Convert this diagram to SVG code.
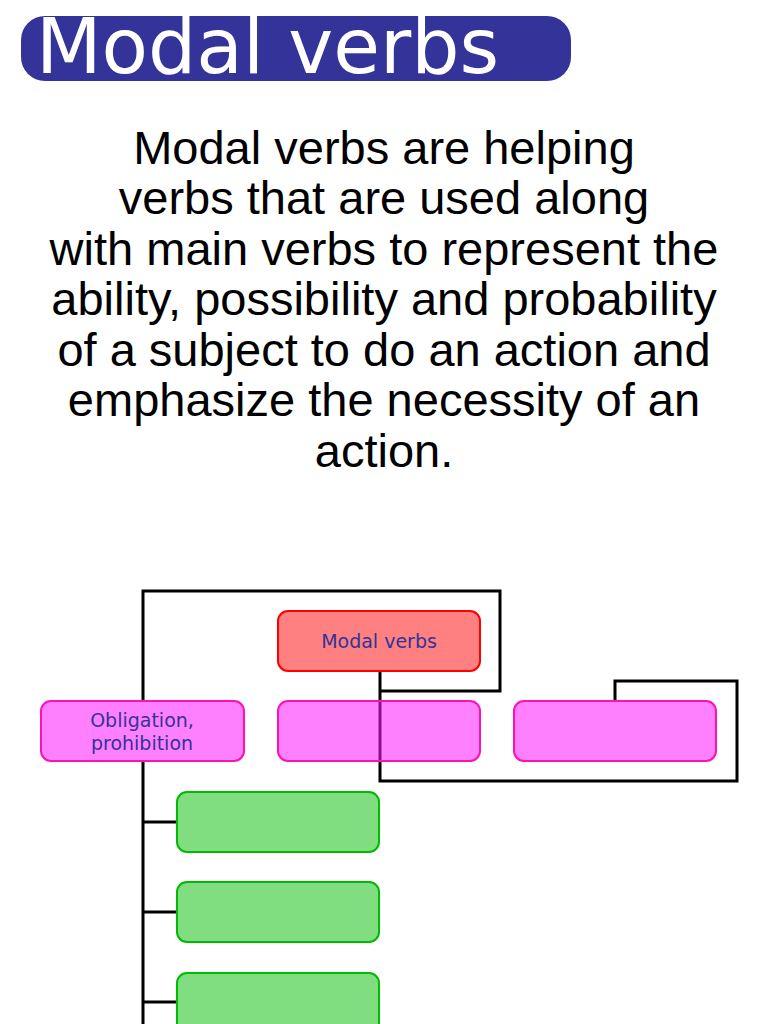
<svg xmlns="http://www.w3.org/2000/svg" width="768" height="1024" viewBox="0 0 768 1024">
<style>
.para{font-family:"Liberation Sans",Arial,sans-serif;font-size:47px;fill:#000;text-anchor:middle}
.lbl{font-family:"DejaVu Sans",sans-serif;font-size:19px;fill:#333399;text-anchor:middle}
.conn{fill:none;stroke:#000;stroke-width:3}
.red{fill:#ff8080;stroke:#ff0000;stroke-width:2}
.pink{fill:#ff80ff;stroke:#ff10b0;stroke-width:2}
.green{fill:#80dd80;stroke:#00bb00;stroke-width:2}
</style>
<rect width="768" height="1024" fill="#fff"/>
<g id="title">
<rect x="21" y="16" width="550" height="65" rx="24" fill="#333399"/>
<text x="36" y="73" font-family="DejaVu Sans,sans-serif" font-size="76" fill="#fff">Modal verbs</text>
</g>
<g id="paragraph">
<text class="para" x="384" y="164">Modal verbs are helping</text>
<text class="para" x="384" y="214">verbs that are used along</text>
<text class="para" x="384" y="265">with main verbs to represent the</text>
<text class="para" x="384" y="315">ability, possibility and probability</text>
<text class="para" x="384" y="366">of a subject to do an action and</text>
<text class="para" x="384" y="416">emphasize the necessity of an</text>
<text class="para" x="384" y="467">action.</text>
</g>
<g id="connectors">
<polyline class="conn" points="143,1024 143,591 500,591 500,691 380,691"/>
<polyline class="conn" points="380,671 380,781 737,781 737,681 615,681 615,701"/>
<line class="conn" x1="143" y1="822" x2="177" y2="822"/>
<line class="conn" x1="143" y1="912" x2="177" y2="912"/>
<line class="conn" x1="143" y1="1002" x2="177" y2="1002"/>
</g>
<g id="node-modal">
<rect class="red" x="278" y="611" width="202" height="60" rx="10"/>
<text class="lbl" x="379" y="648">Modal verbs</text>
</g>
<g id="node-obligation">
<rect class="pink" x="41" y="701" width="203" height="60" rx="10"/>
<text class="lbl" x="142" y="727">Obligation,</text>
<text class="lbl" x="142" y="750">prohibition</text>
</g>
<g id="node-pink2">
<rect class="pink" x="278" y="701" width="202" height="60" rx="10"/>
<line x1="380" y1="702" x2="380" y2="760" stroke="#8a108a" stroke-width="3"/>
</g>
<g id="node-pink3">
<rect class="pink" x="514" y="701" width="202" height="60" rx="10"/>
</g>
<g id="node-green1">
<rect class="green" x="177" y="792" width="202" height="60" rx="10"/>
</g>
<g id="node-green2">
<rect class="green" x="177" y="882" width="202" height="60" rx="10"/>
</g>
<g id="node-green3">
<rect class="green" x="177" y="973" width="202" height="60" rx="10"/>
</g>
</svg>
